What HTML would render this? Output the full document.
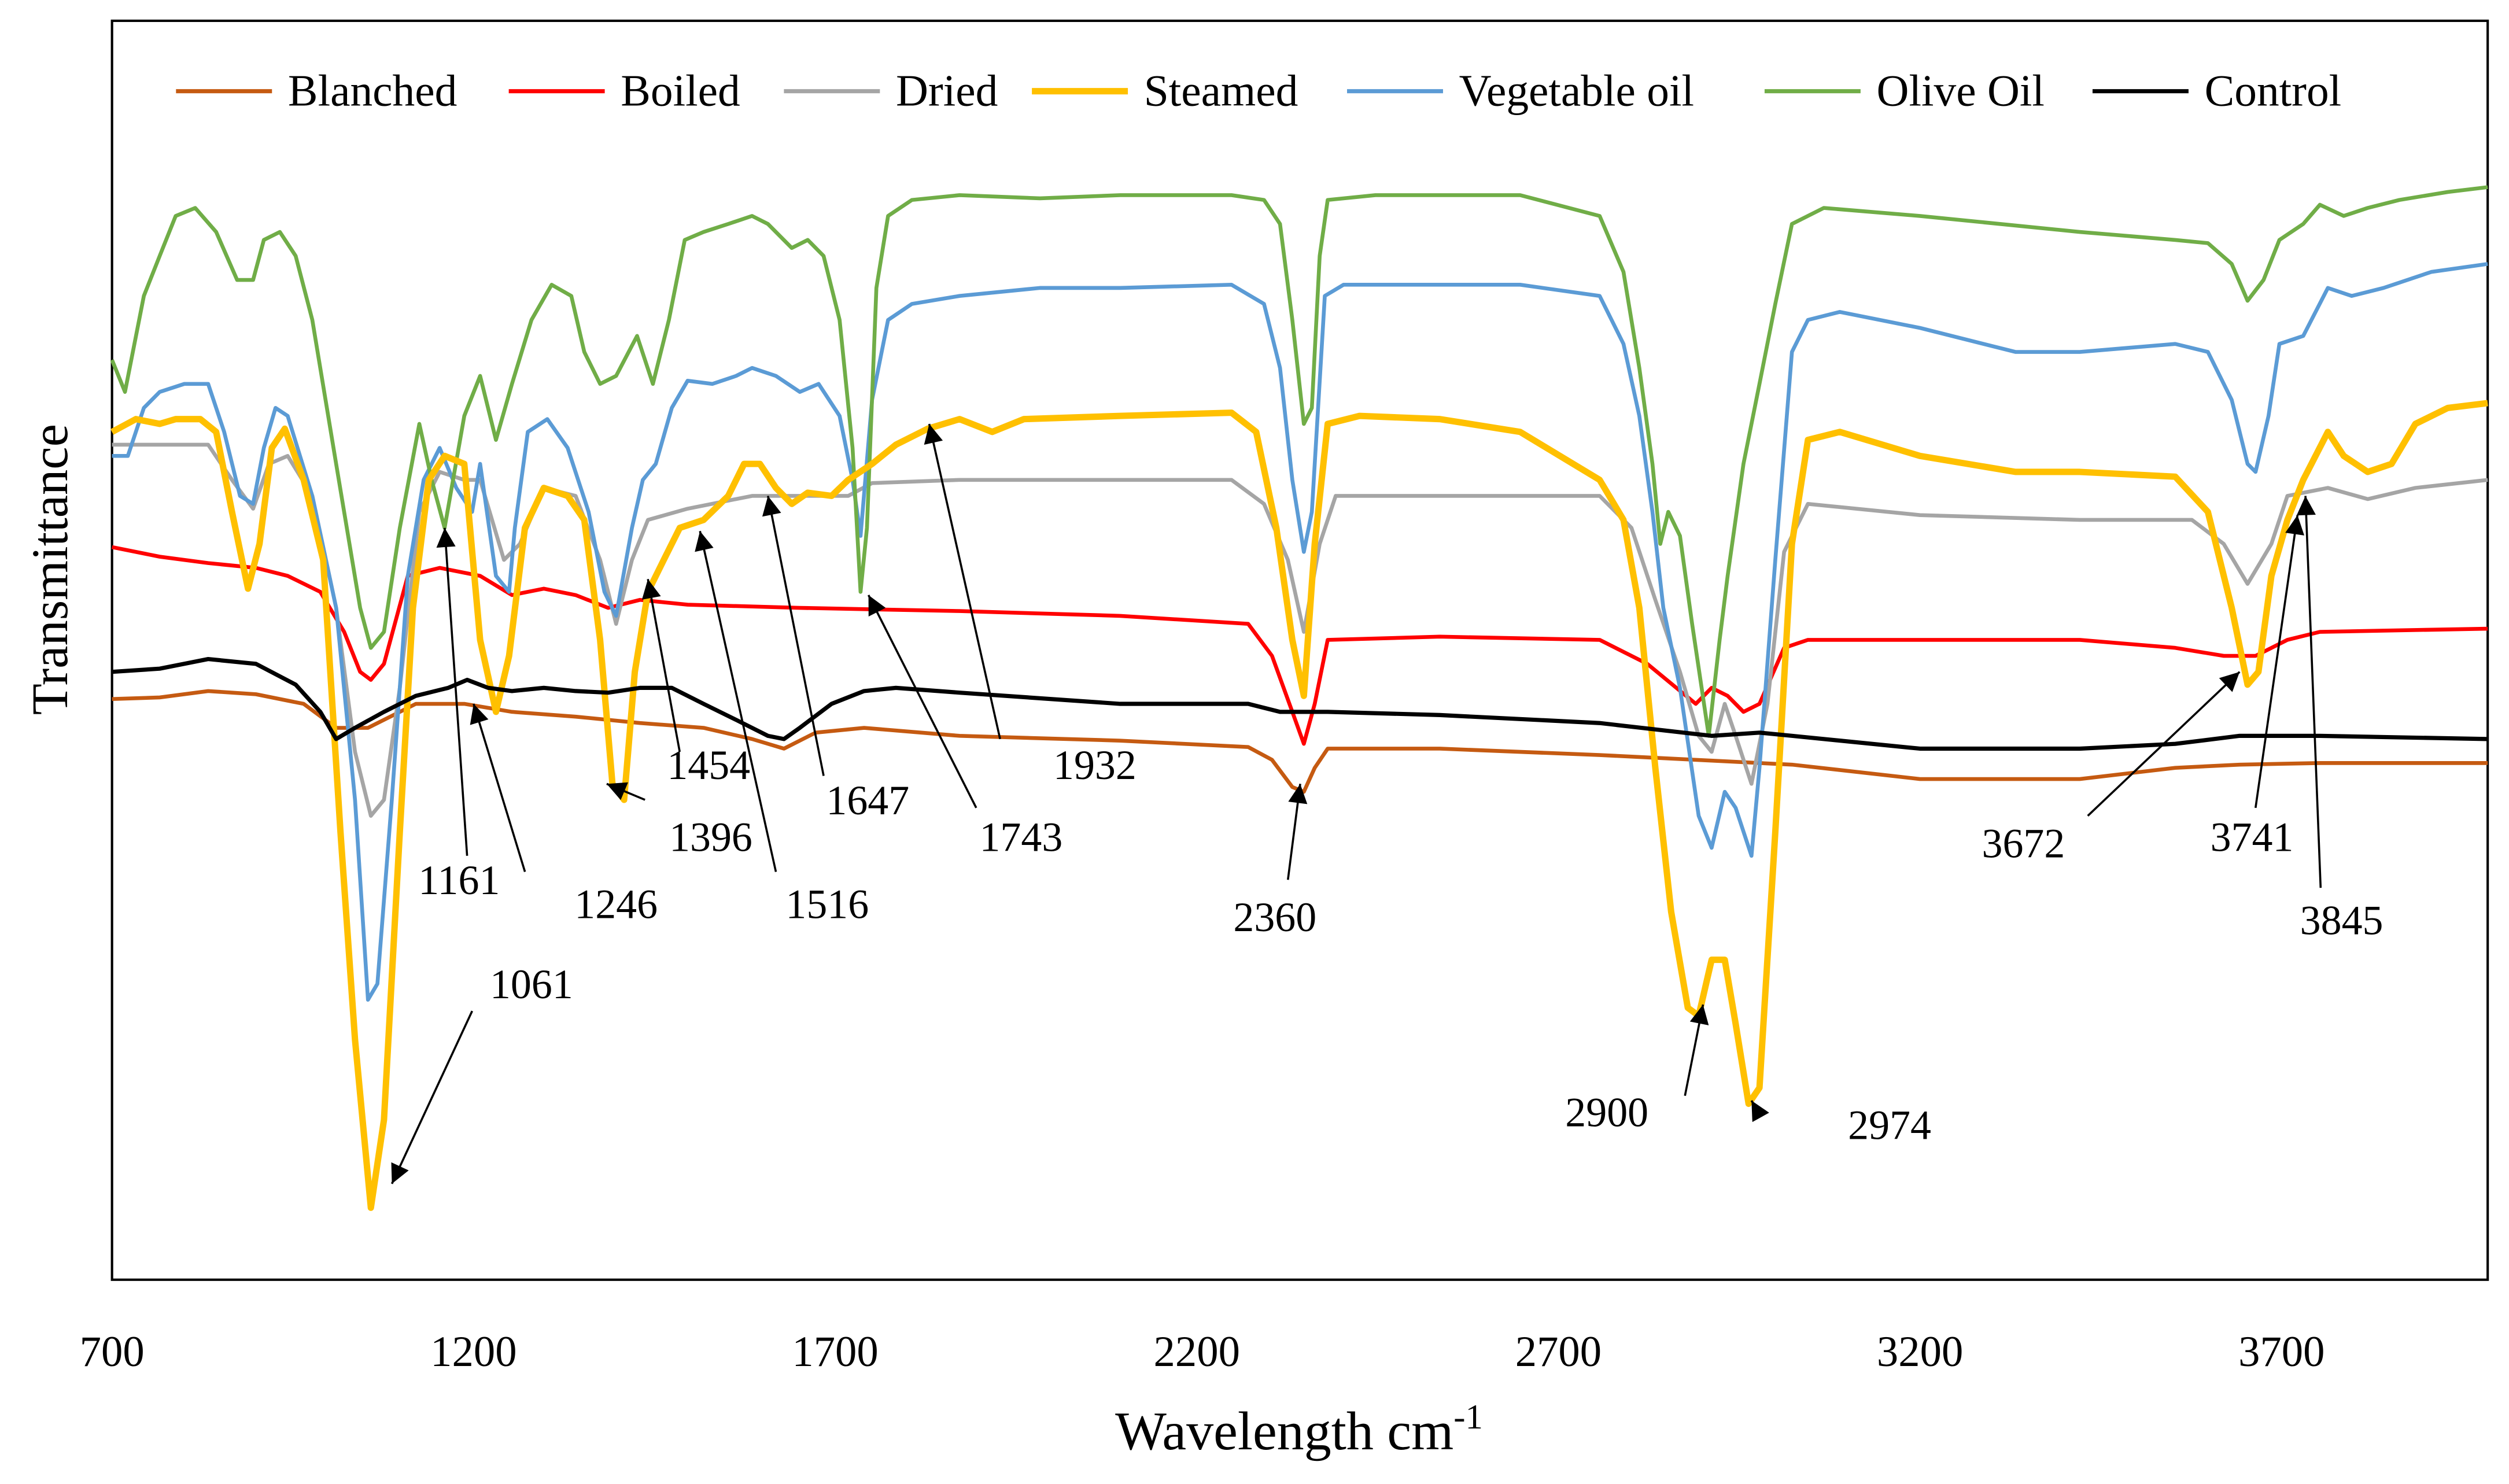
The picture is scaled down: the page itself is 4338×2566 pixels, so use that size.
<!DOCTYPE html>
<html><head><meta charset="utf-8">
<style>
html,body{margin:0;padding:0;background:#fff;}
svg{display:block;}
text{font-family:"Liberation Serif",serif;fill:#000;}
</style></head>
<body>
<svg id="chart" width="4338" height="2566" viewBox="0 0 1568.3 927.7" xmlns="http://www.w3.org/2000/svg">
<defs>
<marker id="ah" viewBox="0 0 10 10" refX="10" refY="5" markerWidth="15" markerHeight="12" orient="auto-start-reverse" markerUnits="userSpaceOnUse">
<path d="M0,0 L10,5 L0,10 z" fill="#000"/>
</marker>
</defs>
<rect x="70" y="13" width="1485" height="787" fill="#fff" stroke="#000" stroke-width="1.5"/>
<g id="series"></g>
<g id="annots"></g>
<g id="xticks"></g>
<g id="legend"></g>
<text x="812" y="906" font-size="34" text-anchor="middle">Wavelength cm<tspan font-size="22" dy="-13">-1</tspan></text>
<text x="0" y="0" font-size="32" text-anchor="middle" transform="translate(42,356) rotate(-90)">Transmittance</text>
</svg>
<script>
// x domain (wavenumber cm-1) and y domain (transmittance, arbitrary units)
const xDomain = [700, 3985];
const yDomain = [0, 787];
const xTicks = [700, 1200, 1700, 2200, 2700, 3200, 3700];

const seriesNames = ["Blanched","Boiled","Dried","Steamed","Vegetable oil","Olive Oil","Control"];
const seriesColors = ["#C55A11","#FF0000","#A5A5A5","#FFC000","#5B9BD5","#70AD47","#000000"];

const oliveOil = [[700,575],[718,555],[744,615],[766,640],[788,665],[815,670],[844,655],[873,625],[895,625],[910,650],[932,655],[954,640],[977,600],[1010,510],[1043,420],[1058,395],[1076,405],[1098,470],[1125,535],[1142,500],[1160,470],[1187,540],[1209,565],[1231,525],[1253,560],[1280,600],[1308,622],[1335,615],[1353,580],[1375,560],[1397,565],[1426,590],[1448,560],[1470,600],[1492,650],[1518,655],[1552,660],[1585,665],[1607,660],[1640,645],[1662,650],[1684,640],[1706,600],[1724,520],[1735,430],[1744,470],[1757,620],[1773,665],[1806,675],[1872,678],[1983,676],[2094,678],[2248,678],[2293,675],[2315,660],[2332,600],[2348,535],[2359,545],[2370,640],[2381,675],[2447,678],[2647,678],[2757,665],[2790,630],[2812,570],[2830,510],[2841,460],[2852,480],[2868,465],[2885,410],[2908,340],[2923,400],[2934,440],[2956,510],[2978,560],[3000,610],[3023,660],[3067,670],[3200,665],[3421,655],[3553,650],[3598,648],[3631,635],[3653,612],[3675,625],[3697,650],[3730,660],[3753,672],[3786,665],[3819,670],[3863,675],[3930,680],[3985,683]];

const vegetableOil = [[700,515],[722,515],[744,545],[766,555],[800,560],[833,560],[855,530],[877,490],[895,485],[910,520],[926,545],[943,540],[977,490],[1010,420],[1036,300],[1054,175],[1067,185],[1087,300],[1109,440],[1131,500],[1153,520],[1176,495],[1198,480],[1209,510],[1231,440],[1249,430],[1257,470],[1275,530],[1302,538],[1330,520],[1359,480],[1381,430],[1397,415],[1419,470],[1434,500],[1452,510],[1474,545],[1496,562],[1530,560],[1563,565],[1585,570],[1618,565],[1651,555],[1677,560],[1706,540],[1724,500],[1735,465],[1751,550],[1773,600],[1806,610],[1872,615],[1983,620],[2094,620],[2248,622],[2293,610],[2315,570],[2332,500],[2348,455],[2359,480],[2377,615],[2403,622],[2647,622],[2757,615],[2790,585],[2812,540],[2830,480],[2845,420],[2868,370],[2894,290],[2912,270],[2930,305],[2945,295],[2967,265],[2978,320],[3000,450],[3023,580],[3045,600],[3089,605],[3200,595],[3332,580],[3421,580],[3553,585],[3598,580],[3631,550],[3653,510],[3664,505],[3682,540],[3697,585],[3730,590],[3764,620],[3797,615],[3841,620],[3907,630],[3985,635]];

const dried = [[700,522],[766,522],[833,522],[866,500],[895,482],[917,510],[943,515],[977,490],[1010,420],[1036,330],[1058,290],[1076,300],[1098,370],[1125,480],[1153,505],[1187,500],[1209,500],[1242,450],[1264,460],[1297,495],[1341,490],[1375,450],[1397,410],[1419,450],[1441,475],[1496,482],[1585,490],[1651,490],[1718,490],[1751,498],[1872,500],[2094,500],[2248,500],[2293,485],[2326,450],[2348,405],[2370,460],[2392,490],[2757,490],[2801,470],[2834,425],[2868,380],[2894,340],[2912,330],[2930,360],[2945,340],[2967,310],[2989,360],[3012,455],[3045,485],[3200,478],[3421,475],[3576,475],[3620,460],[3653,435],[3686,460],[3708,490],[3764,495],[3819,488],[3885,495],[3985,500]];

const steamed = [[700,530],[733,538],[766,535],[788,538],[822,538],[844,530],[866,480],[888,432],[904,460],[921,520],[939,532],[965,500],[992,450],[1016,280],[1036,150],[1058,45],[1076,100],[1098,280],[1116,420],[1138,500],[1160,515],[1187,510],[1209,400],[1231,355],[1249,390],[1271,470],[1297,495],[1330,490],[1353,475],[1375,400],[1392,310],[1408,300],[1423,380],[1441,430],[1463,450],[1485,470],[1518,475],[1552,490],[1574,510],[1596,510],[1618,495],[1640,485],[1662,492],[1695,490],[1718,500],[1751,510],[1784,522],[1828,532],[1872,538],[1917,530],[1961,538],[2094,540],[2248,542],[2282,530],[2310,470],[2332,400],[2348,365],[2363,460],[2381,535],[2425,540],[2536,538],[2647,530],[2757,500],[2790,475],[2812,420],[2834,320],[2856,230],[2879,170],[2894,165],[2912,200],[2930,200],[2945,160],[2963,110],[2978,120],[3000,280],[3023,460],[3045,525],[3089,530],[3200,515],[3332,505],[3421,505],[3553,502],[3598,480],[3631,420],[3653,372],[3668,380],[3686,440],[3708,475],[3730,500],[3764,530],[3786,515],[3819,505],[3852,510],[3885,535],[3930,545],[3985,548]];

const boiled = [[700,458],[766,452],[833,448],[899,445],[943,440],[988,430],[1021,405],[1043,380],[1058,375],[1076,385],[1109,440],[1153,445],[1209,440],[1253,428],[1297,432],[1341,428],[1386,420],[1430,425],[1496,422],[1651,420],[1872,418],[2094,415],[2271,410],[2304,390],[2332,355],[2348,335],[2363,360],[2381,400],[2536,402],[2757,400],[2823,385],[2890,360],[2912,370],[2934,365],[2956,355],[2978,360],[3012,395],[3045,400],[3200,400],[3421,400],[3553,395],[3620,390],[3664,390],[3708,400],[3753,405],[3985,407]];

const control = [[700,380],[766,382],[833,388],[899,385],[954,372],[988,355],[1010,338],[1036,345],[1076,355],[1120,365],[1165,370],[1191,375],[1220,370],[1253,368],[1297,370],[1341,368],[1386,367],[1430,370],[1474,370],[1518,360],[1563,350],[1607,340],[1629,338],[1651,345],[1695,360],[1740,368],[1784,370],[1872,367],[2094,360],[2271,360],[2315,355],[2381,355],[2536,353],[2757,348],[2912,340],[2978,342],[3023,340],[3200,332],[3421,332],[3553,335],[3642,340],[3753,340],[3985,338]];

const blanched = [[700,363],[766,364],[833,368],[899,366],[965,360],[1010,345],[1054,345],[1120,360],[1187,360],[1253,355],[1341,352],[1430,348],[1518,345],[1585,338],[1629,332],[1673,342],[1740,345],[1872,340],[2094,337],[2271,333],[2304,325],[2332,308],[2348,305],[2363,320],[2381,332],[2536,332],[2757,328],[2934,324],[3023,322],[3200,313],[3421,313],[3553,320],[3642,322],[3753,323],[3985,323]];

const seriesData = [blanched, boiled, dried, steamed, vegetableOil, oliveOil, control];
const seriesKeys = ["blanched","boiled","dried","steamed","vegetable-oil","olive-oil","control"];
const seriesWidths = [2.4,2.4,2.4,4,2.4,2.4,2.6];

// peak annotations: label, label pos (wavenumber, T), arrow head (wavenumber, T)
const peakLabels = ["1061","1161","1246","1396","1454","1516","1647","1743","1932","2360","2900","2974","3672","3741","3845"];
const peakLabelPos = [[1280,185],[1180,250],[1397,235],[1528,277],[1525,322],[1689,235],[1745,300],[1957,277],[2059,322],[2308,227],[2767,105],[3158,97],[3343,273],[3659,277],[3783,225]];
const peakTail = [[1198,168],[1191,265],[1271,255],[1437,300],[1485,330],[1618,255],[1684,315],[1895,295],[1928,338],[2326,250],[2875,115],[2978,103],[3432,290],[3664,295],[3754,245]];
const peakHead = [[1087,60],[1160,470],[1200,360],[1384,310],[1441,438],[1513,468],[1607,490],[1746,428],[1830,535],[2343,310],[2900,172],[2967,112],[3642,380],[3722,478],[3733,490]];

const PL=70, PR=1555, PT=13, PB=800;
function sx(w){return PL+(w-xDomain[0])/(xDomain[1]-xDomain[0])*(PR-PL);}
function sy(t){return PB-(t-yDomain[0])/(yDomain[1]-yDomain[0])*(PB-PT);}
const NS="http://www.w3.org/2000/svg";
const sg=document.getElementById('series');
const order=[0,1,2,4,5,3,6];
order.forEach(i=>{
  const p=document.createElementNS(NS,'path');
  p.setAttribute('d',seriesData[i].map((d,k)=>(k?'L':'M')+sx(d[0]).toFixed(1)+','+sy(d[1]).toFixed(1)).join(' '));
  p.setAttribute('fill','none');
  p.setAttribute('stroke',seriesColors[i]);
  p.setAttribute('stroke-width',seriesWidths[i]);
  p.setAttribute('stroke-linejoin','round');
  
  
  sg.appendChild(p);
});
const ag=document.getElementById('annots');
peakLabels.forEach((lab,i)=>{
  const l=document.createElementNS(NS,'line');
  l.setAttribute('x1',sx(peakTail[i][0]));l.setAttribute('y1',sy(peakTail[i][1]));
  l.setAttribute('x2',sx(peakHead[i][0]));l.setAttribute('y2',sy(peakHead[i][1]));
  l.setAttribute('stroke','#000');l.setAttribute('stroke-width','1.3');
  l.setAttribute('marker-end','url(#ah)');
  
  
  ag.appendChild(l);
  const t=document.createElementNS(NS,'text');
  t.setAttribute('x',sx(peakLabelPos[i][0]));t.setAttribute('y',sy(peakLabelPos[i][1])+9);
  t.setAttribute('font-size','26');t.setAttribute('text-anchor','middle');
  t.textContent=lab;
  
  
  ag.appendChild(t);
});
const xg=document.getElementById('xticks');
xTicks.forEach(v=>{
  const t=document.createElementNS(NS,'text');
  t.setAttribute('x',sx(v));t.setAttribute('y',854);
  t.setAttribute('font-size','27');t.setAttribute('text-anchor','middle');
  t.textContent=v;
  
  
  xg.appendChild(t);
});
const legX=[110,318,490,645,842,1103,1308];
const lg=document.getElementById('legend');
seriesNames.forEach((n,i)=>{
  const g=document.createElementNS(NS,'g');
  
  
  const l=document.createElementNS(NS,'line');
  l.setAttribute('x1',legX[i]);l.setAttribute('x2',legX[i]+60);
  l.setAttribute('y1',57);l.setAttribute('y2',57);
  l.setAttribute('stroke',seriesColors[i]);l.setAttribute('stroke-width',i===3?4:2.6);
  g.appendChild(l);
  const t=document.createElementNS(NS,'text');
  t.setAttribute('x',legX[i]+70);t.setAttribute('y',66);t.setAttribute('font-size','28');
  t.textContent=n;
  g.appendChild(t);
  lg.appendChild(g);
});
</script>
</body></html>
